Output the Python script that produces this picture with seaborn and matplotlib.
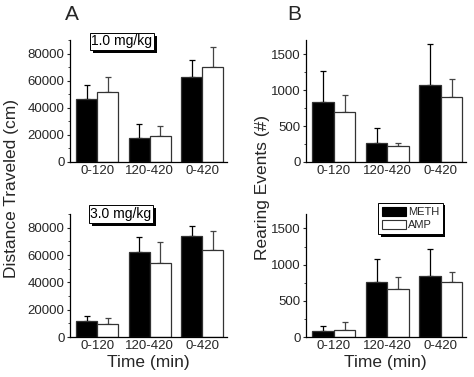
import numpy as np
import pandas as pd
import matplotlib
matplotlib.use("Agg")
import matplotlib.pyplot as plt
from matplotlib.artist import Artist
from matplotlib.patches import Patch, Rectangle
from matplotlib.transforms import IdentityTransform
from matplotlib.ticker import MultipleLocator
import seaborn as sns

# data (mean and upper error = SEM)
periods = ["0-120", "120-420", "0-420"]
drugs = ["METH", "AMP"]

dist_1mg_meth = [46500, 17500, 63000]
dist_1mg_meth_err = [10500, 10300, 12500]
dist_1mg_amp = [52000, 19000, 69800]
dist_1mg_amp_err = [11000, 7500, 15200]

dist_3mg_meth = [11500, 62500, 74000]
dist_3mg_meth_err = [4200, 11000, 7400]
dist_3mg_amp = [9700, 54500, 64000]
dist_3mg_amp_err = [4300, 14700, 13600]

rear_1mg_meth = [830, 265, 1075]
rear_1mg_meth_err = [440, 210, 570]
rear_1mg_amp = [690, 225, 900]
rear_1mg_amp_err = [245, 42, 262]

rear_3mg_meth = [85, 760, 838]
rear_3mg_meth_err = [70, 320, 373]
rear_3mg_amp = [103, 662, 754]
rear_3mg_amp_err = [107, 168, 140]

sns.set_style("ticks")
plt.rcParams["font.family"] = ["Liberation Sans", "DejaVu Sans"]

fig = plt.figure(figsize=(4.74, 3.77), dpi=100)
W, H = 474, 377


class BoxShadow(Artist):
    """Black drop shadow worked out at draw time from another box."""

    def __init__(self, extent_fn, offset=2.2):
        super().__init__()
        self.extent_fn = extent_fn
        self.offset = offset

    def draw(self, renderer):
        bb = self.extent_fn(renderer)
        d = renderer.points_to_pixels(self.offset)
        r = Rectangle((bb.x0 + d, bb.y0 - d), bb.width, bb.height,
                      transform=IdentityTransform(), fc="black", ec="none")
        r.set_figure(self.figure)
        r.draw(renderer)


def px_axes(x0, y0, x1, y1):
    return fig.add_axes([x0 / W, 1 - y1 / H, (x1 - x0) / W, (y1 - y0) / H])


def make_df(meth, amp):
    return pd.DataFrame({
        "period": periods * 2,
        "drug": ["METH"] * 3 + ["AMP"] * 3,
        "value": list(meth) + list(amp),
    })


def draw_panel(ax, meth, meth_err, amp, amp_err, ymax, major, minor):
    df = make_df(meth, amp)
    sns.barplot(data=df, x="period", y="value", hue="drug", order=periods,
                hue_order=drugs, palette=["black", "white"], errorbar=None,
                width=0.8, linewidth=0.9, edgecolor="#333333", ax=ax,
                legend=False, saturation=1)
    errs = list(meth_err) + list(amp_err)
    vals = list(meth) + list(amp)
    bars = ax.patches[:6]
    for i, bar in enumerate(bars):
        xc = bar.get_x() + bar.get_width() / 2
        col = "black" if i < 3 else "#444444"
        ax.errorbar(xc, vals[i], yerr=[[0], [errs[i]]], fmt="none",
                    ecolor=col, elinewidth=0.9, capsize=2.2, capthick=0.9,
                    zorder=1)
    for bar in bars:
        bar.set_zorder(2)
    ax.set_xlim(-0.52, 2.47)
    ax.set_ylim(0, ymax)
    ax.yaxis.set_major_locator(MultipleLocator(major))
    ax.yaxis.set_minor_locator(MultipleLocator(minor))
    ax.tick_params(axis="y", direction="out", length=2.5, width=0.8,
                   labelsize=9.5, pad=1.5)
    ax.tick_params(axis="y", which="minor", length=1.5, width=0.6)
    ax.tick_params(axis="x", length=0, labelsize=9.5, pad=2)
    ax.set_xlabel("")
    ax.set_ylabel("")
    for s in ["top", "right"]:
        ax.spines[s].set_visible(False)
    for s in ["left", "bottom"]:
        ax.spines[s].set_linewidth(0.9)
        ax.spines[s].set_color("black")


def dose_box(ax, text, x, y):
    t = ax.text(x, y, text, transform=ax.transAxes, fontsize=10, color="black",
                ha="center", va="center", zorder=8,
                bbox=dict(boxstyle="square,pad=0.12", fc="white", ec="black", lw=0.7))

    def extent(renderer):
        t.update_bbox_position_size(renderer)
        return t.get_bbox_patch().get_window_extent(renderer)

    sh = BoxShadow(extent)
    sh.set_zorder(7)
    ax.add_artist(sh)
    sh.set_clip_on(False)
    return t


axA1 = px_axes(70, 40, 227, 162)
axA2 = px_axes(70, 214, 227, 337)
axB1 = px_axes(306, 40, 466, 162)
axB2 = px_axes(306, 214, 466, 337)

draw_panel(axA1, dist_1mg_meth, dist_1mg_meth_err, dist_1mg_amp, dist_1mg_amp_err,
           90000, 20000, 10000)
draw_panel(axA2, dist_3mg_meth, dist_3mg_meth_err, dist_3mg_amp, dist_3mg_amp_err,
           90000, 20000, 10000)
draw_panel(axB1, rear_1mg_meth, rear_1mg_meth_err, rear_1mg_amp, rear_1mg_amp_err,
           1700, 500, 250)
draw_panel(axB2, rear_3mg_meth, rear_3mg_meth_err, rear_3mg_amp, rear_3mg_amp_err,
           1700, 500, 250)

dose_box(axA1, "1.0 mg/kg", 0.33, 0.99)
dose_box(axA2, "3.0 mg/kg", 0.325, 1.0)

# legend
handles = [Patch(fc="black", ec="black", lw=0.8), Patch(fc="white", ec="#333333", lw=0.8)]
leg = axB2.legend(handles, drugs, loc="upper right", bbox_to_anchor=(0.856, 1.09),
                  fontsize=8, frameon=True, fancybox=False, framealpha=1,
                  handlelength=2.1, handleheight=0.9, handletextpad=0.2,
                  borderpad=0.35, borderaxespad=0, labelspacing=0.25)
leg.get_frame().set_edgecolor("black")
leg.get_frame().set_facecolor("white")
leg.get_frame().set_linewidth(0.7)
leg.set_zorder(8)
leg_shadow = BoxShadow(lambda r: leg.get_window_extent(r), offset=1.8)
leg_shadow.set_zorder(7)
axB2.add_artist(leg_shadow)
leg_shadow.set_clip_on(False)

fig.text(65 / W, 1 - 15 / H, "A", fontsize=15, ha="left", va="center")
fig.text(287 / W, 1 - 15 / H, "B", fontsize=15, ha="left", va="center")
fig.text(12 / W, 1 - 188 / H, "Distance Traveled (cm)", fontsize=12.5,
         rotation=90, ha="center", va="center")
fig.text(262 / W, 1 - 188 / H, "Rearing Events (#)", fontsize=12.5,
         rotation=90, ha="center", va="center")
fig.text(148 / W, 1 - 362 / H, "Time (min)", fontsize=12.5, ha="center", va="center")
fig.text(385 / W, 1 - 362 / H, "Time (min)", fontsize=12.5, ha="center", va="center")

fig.savefig("out.png", dpi=100)
